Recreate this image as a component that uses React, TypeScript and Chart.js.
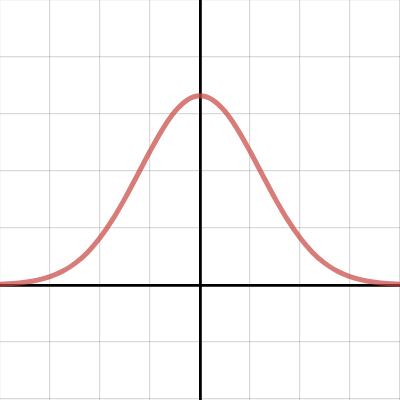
import React, { useEffect, useRef } from "react";
import { Chart, registerables } from "chart.js";

Chart.register(...registerables);

const xValues = [-4, -3.75, -3.5, -3.25, -3, -2.75, -2.5, -2.25, -2, -1.75, -1.5, -1.25, -1, -0.75, -0.5, -0.25, 0, 0.25, 0.5, 0.75, 1, 1.25, 1.5, 1.75, 2, 2.25, 2.5, 2.75, 3, 3.25, 3.5, 3.75, 4];
const yValues = [0.013, 0.025, 0.047, 0.085, 0.146, 0.24, 0.379, 0.572, 0.828, 1.146, 1.52, 1.93, 2.346, 2.731, 3.044, 3.249, 3.32, 3.249, 3.044, 2.731, 2.346, 1.93, 1.52, 1.146, 0.828, 0.572, 0.379, 0.24, 0.146, 0.085, 0.047, 0.025, 0.013];
const xTicks = [-4, -3, -2, -1, 0, 1, 2, 3, 4];
const yTicks = [-2, -1, 0, 1, 2, 3, 4, 5];

export default function App() {
  const ref = useRef<HTMLCanvasElement | null>(null);

  useEffect(() => {
    document.body.style.margin = "0";
    if (!ref.current) return;
    const gridColor = (ctx: any) => (ctx.tick && ctx.tick.value === 0 ? "#000000" : "rgba(0,0,0,0.15)");
    const gridWidth = (ctx: any) => (ctx.tick && ctx.tick.value === 0 ? 2.8 : 1.2);
    const chart = new Chart(ref.current, {
      type: "line",
      data: {
        datasets: [
          {
            data: xValues.map((x, i) => ({ x, y: yValues[i] })),
            borderColor: "rgba(199,68,64,0.7)",
            borderWidth: 5,
            pointRadius: 0,
            fill: false,
            cubicInterpolationMode: "monotone",
            tension: 0.4,
          },
        ],
      },
      options: {
        animation: false,
        responsive: false,
        maintainAspectRatio: false,
        layout: { padding: 0 },
        plugins: { legend: { display: false }, tooltip: { enabled: false } },
        scales: {
          x: {
            type: "linear",
            min: -4,
            max: 4,
            afterBuildTicks: (axis: any) => {
              axis.ticks = xTicks.map((v) => ({ value: v }));
            },
            ticks: { display: false },
            border: { display: false },
            grid: { color: gridColor, lineWidth: gridWidth, drawTicks: false },
          },
          y: {
            type: "linear",
            min: -2.018,
            max: 5,
            afterBuildTicks: (axis: any) => {
              axis.ticks = yTicks.map((v) => ({ value: v }));
            },
            ticks: { display: false },
            border: { display: false },
            grid: { color: gridColor, lineWidth: gridWidth, drawTicks: false },
          },
        },
      },
    } as any);
    return () => chart.destroy();
  }, []);

  return (
    <div style={{ position: "fixed", left: 0, top: 0, width: 400, height: 400, background: "#fff" }}>
      <canvas ref={ref} width={400} height={400} style={{ width: 400, height: 400 }} />
    </div>
  );
}
